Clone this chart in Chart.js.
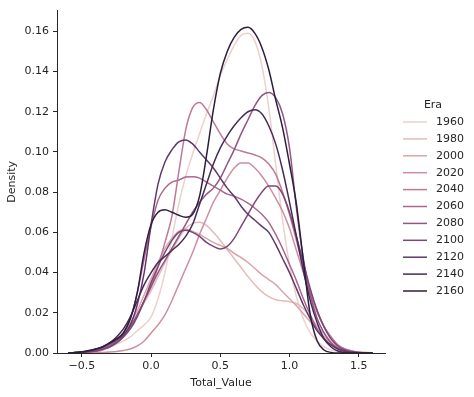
<!DOCTYPE html>
<html><head><meta charset="utf-8">
<script src="https://cdn.jsdelivr.net/npm/chart.js@4.4.1/dist/chart.umd.min.js"></script>
<style>html,body{margin:0;padding:0;background:#fff}#wrap{width:474px;height:397px;position:relative}</style>
</head><body><div id="wrap"><canvas id="c" width="474" height="397"></canvas></div>
<script>
// Shared x grid (Total_Value)
const xGrid = [-0.6,-0.55,-0.5,-0.45,-0.4,-0.35,-0.3,-0.25,-0.2,-0.15,-0.1,-0.05,0,0.05,0.1,0.15,0.2,0.25,0.3,0.35,0.4,0.45,0.5,0.55,0.6,0.65,0.7,0.75,0.8,0.85,0.9,0.95,1.0,1.05,1.1,1.15,1.2,1.25,1.3,1.35,1.4,1.45,1.5,1.55,1.6];
const eras = ['1960','1980','2000','2020','2040','2060','2080','2100','2120','2140','2160'];
const yTicks = [0,0.02,0.04,0.06,0.08,0.10,0.12,0.14,0.16];
const xTicks = [-0.5,0,0.5,1.0,1.5];

const d1960 = [0,0.0002,0.0005,0.001,0.0015,0.002,0.003,0.0045,0.006,0.008,0.011,0.014,0.018,0.027,0.040,0.057,0.074,0.088,0.099,0.109,0.119,0.128,0.138,0.146,0.153,0.158,0.159,0.155,0.143,0.122,0.094,0.066,0.044,0.028,0.017,0.010,0.006,0.003,0.0015,0.0007,0.0003,0.0001,0,0,0];
const d1980 = [0,0.0002,0.0005,0.001,0.0017,0.0028,0.0045,0.007,0.010,0.014,0.019,0.025,0.031,0.038,0.045,0.051,0.057,0.062,0.0645,0.065,0.0635,0.060,0.056,0.0515,0.047,0.0425,0.038,0.034,0.0305,0.028,0.0265,0.026,0.0255,0.0246,0.022,0.018,0.0135,0.0095,0.006,0.0035,0.002,0.001,0.0004,0.0002,0.0001];
const d2000 = [0,0.0001,0.0003,0.0007,0.0013,0.0023,0.004,0.0065,0.010,0.015,0.021,0.029,0.037,0.045,0.052,0.057,0.0605,0.0615,0.0605,0.059,0.057,0.055,0.0535,0.052,0.0495,0.0475,0.045,0.042,0.039,0.0365,0.034,0.0305,0.027,0.0235,0.0195,0.0155,0.0115,0.008,0.0052,0.0032,0.0018,0.0009,0.0004,0.0002,0.0001];
const d2020 = [0,0,0.0001,0.0001,0.0002,0.0003,0.0005,0.0008,0.0013,0.002,0.0035,0.006,0.010,0.014,0.019,0.026,0.034,0.042,0.050,0.059,0.067,0.075,0.081,0.087,0.092,0.0945,0.0945,0.092,0.088,0.083,0.077,0.0705,0.062,0.051,0.040,0.029,0.020,0.013,0.008,0.004,0.002,0.0009,0.0003,0.0001,0];
const d2040 = [0,0.0001,0.0002,0.0004,0.0008,0.0015,0.003,0.005,0.008,0.013,0.019,0.026,0.033,0.043,0.055,0.068,0.090,0.111,0.122,0.1246,0.121,0.115,0.109,0.104,0.1015,0.1005,0.0995,0.0985,0.097,0.094,0.089,0.080,0.069,0.056,0.043,0.031,0.021,0.013,0.008,0.004,0.002,0.001,0.0004,0.0001,0];
const d2060 = [0,0.0001,0.0003,0.0006,0.0012,0.002,0.0035,0.006,0.010,0.017,0.030,0.047,0.063,0.076,0.082,0.085,0.086,0.0875,0.0877,0.087,0.085,0.083,0.081,0.079,0.078,0.0765,0.0745,0.072,0.069,0.065,0.059,0.052,0.044,0.036,0.027,0.019,0.012,0.007,0.004,0.002,0.0009,0.0003,0.0001,0,0];
const d2080 = [0,0.0001,0.0003,0.0006,0.001,0.002,0.0035,0.0055,0.0085,0.013,0.019,0.026,0.033,0.040,0.046,0.052,0.058,0.064,0.070,0.075,0.079,0.082,0.087,0.094,0.101,0.109,0.116,0.123,0.128,0.1296,0.127,0.119,0.102,0.072,0.047,0.029,0.017,0.010,0.005,0.0025,0.001,0.0004,0.0001,0,0];
const d2100 = [0,0.0001,0.0003,0.0006,0.001,0.002,0.003,0.005,0.008,0.012,0.018,0.026,0.035,0.043,0.050,0.056,0.060,0.061,0.060,0.058,0.055,0.053,0.0517,0.053,0.057,0.063,0.069,0.075,0.080,0.083,0.083,0.079,0.070,0.058,0.045,0.032,0.021,0.013,0.007,0.0035,0.0015,0.0006,0.0002,0,0];
const d2120 = [0,0.0002,0.0005,0.001,0.0018,0.003,0.0045,0.0065,0.009,0.014,0.024,0.040,0.064,0.084,0.095,0.101,0.105,0.106,0.104,0.100,0.096,0.092,0.087,0.082,0.078,0.073,0.069,0.066,0.063,0.060,0.054,0.047,0.040,0.032,0.024,0.017,0.011,0.007,0.004,0.002,0.001,0.0004,0.0001,0,0];
const d2140 = [0,0.0002,0.0005,0.001,0.002,0.003,0.005,0.008,0.012,0.018,0.026,0.034,0.040,0.045,0.048,0.051,0.054,0.058,0.064,0.074,0.084,0.094,0.102,0.108,0.113,0.117,0.120,0.121,0.119,0.113,0.104,0.091,0.075,0.058,0.041,0.026,0.015,0.007,0.003,0.001,0.0003,0,0,0,0];
const d2160 = [0,0.0002,0.0006,0.0012,0.002,0.0032,0.005,0.007,0.010,0.017,0.030,0.050,0.064,0.070,0.0712,0.070,0.0685,0.0675,0.069,0.078,0.098,0.121,0.139,0.150,0.157,0.161,0.162,0.159,0.152,0.141,0.126,0.112,0.094,0.074,0.046,0.019,0.006,0.0015,0.0003,0,0,0,0,0,0];

const seriesList = [d1960,d1980,d2000,d2020,d2040,d2060,d2080,d2100,d2120,d2140,d2160];

// seaborn default sequential cubehelix palette (light .85 -> dark .15)
function cubehelix(x){
  const a = 0.8 * x * (1 - x) / 2, phi = 2 * Math.PI * (0.4 * x);
  const c = Math.cos(phi), s = Math.sin(phi);
  const ch = v => Math.round(Math.max(0, Math.min(1, v)) * 255);
  return 'rgb(' + ch(x + a * (-0.14861 * c + 1.78277 * s)) + ',' + ch(x + a * (-0.29227 * c - 0.90649 * s)) + ',' + ch(x + a * (1.97294 * c)) + ')';
}
const eraMin = 1960, eraMax = 2160;
const colorFor = e => cubehelix(0.85 - 0.7 * (Number(e) - eraMin) / (eraMax - eraMin));

const TXT = '#262626';
const FONT = 'DejaVu Sans';

const legendPlugin = {
  id: 'eraLegend',
  afterDraw(chart){
    const ctx = chart.ctx;
    ctx.save();
    ctx.font = '11px "' + FONT + '"';
    ctx.fillStyle = TXT;
    ctx.textBaseline = 'middle';
    ctx.textAlign = 'center';
    ctx.fillText('Era', 433, 105);
    ctx.textAlign = 'left';
    chart.data.datasets.forEach((ds, i) => {
      const y = 122 + i * 16.9;
      ctx.strokeStyle = ds.borderColor;
      ctx.lineWidth = 1.5;
      ctx.beginPath(); ctx.moveTo(403, y); ctx.lineTo(427, y); ctx.stroke();
      ctx.fillStyle = TXT;
      ctx.fillText(ds.label, 436, y);
    });
    ctx.restore();
  }
};

new Chart(document.getElementById('c'), {
  type: 'line',
  data: {
    datasets: eras.map((e, i) => ({
      label: e,
      data: xGrid.map((x, j) => ({x: x, y: seriesList[i][j]})),
      borderColor: colorFor(e),
      borderWidth: 1.5,
      pointRadius: 0,
      fill: false,
      cubicInterpolationMode: 'monotone',
      order: eras.length - i
    }))
  },
  options: {
    responsive: false,
    animation: false,
    devicePixelRatio: 1,
    layout: {padding: {left: 0, top: 7, right: 89, bottom: 0}},
    plugins: {legend: {display: false}, tooltip: {enabled: false}},
    scales: {
      x: {
        type: 'linear', min: -0.68, max: 1.69,
        afterBuildTicks: s => { s.ticks = xTicks.map(v => ({value: v})); },
        afterFit: s => { s.height = 44; },
        ticks: {
          color: TXT, padding: 3, maxRotation: 0,
          font: {family: FONT, size: 11},
          callback: v => (v < 0 ? '\u2212' + Math.abs(v).toFixed(1) : v.toFixed(1))
        },
        grid: {drawOnChartArea: false, drawTicks: true, tickLength: 4, color: TXT, tickWidth: 1},
        border: {display: true, color: TXT, width: 1},
        title: {display: true, text: 'Total_Value', color: TXT, font: {family: FONT, size: 11}, padding: {top: 4, bottom: 7}}
      },
      y: {
        type: 'linear', min: 0, max: 0.1703,
        afterBuildTicks: s => { s.ticks = yTicks.map(v => ({value: v})); },
        afterFit: s => { s.width = 57; },
        ticks: {
          color: TXT, padding: 4,
          font: {family: FONT, size: 11},
          callback: v => v.toFixed(2)
        },
        grid: {drawOnChartArea: false, drawTicks: true, tickLength: 4, color: TXT, tickWidth: 1},
        border: {display: true, color: TXT, width: 1},
        title: {display: true, text: 'Density', color: TXT, font: {family: FONT, size: 11}, padding: {top: 6, bottom: 6}}
      }
    }
  },
  plugins: [legendPlugin]
});
</script>
</body></html>
